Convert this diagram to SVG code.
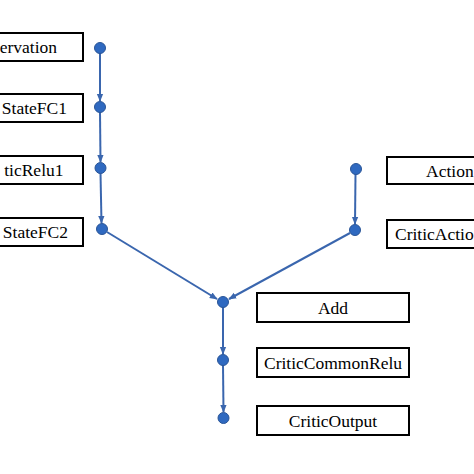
<svg xmlns="http://www.w3.org/2000/svg" width="474" height="474" viewBox="0 0 474 474">
<style>
.box{fill:#fff;stroke:#000;stroke-width:2}
.lbl{font-family:"Liberation Serif","Times New Roman",serif;font-size:17.5px;fill:#000}
.c{text-anchor:middle}
.e{text-anchor:end}
.node{fill:#2f69c0;stroke:#2a5597;stroke-width:1}
.edge{stroke:#3a66ae;stroke-width:2;fill:none;marker-end:url(#ah)}
</style>
<defs>
<marker id="ah" viewBox="0 0 10 10" refX="9" refY="5" markerWidth="4" markerHeight="4" orient="auto" markerUnits="strokeWidth">
<path d="M0,1 L10,5 L0,9 Z" fill="#3a66ae"/>
</marker>
</defs>
<rect width="474" height="474" fill="#fff"/>
<g id="connectors">
<line class="edge" x1="100" y1="53" x2="100" y2="101"/>
<line class="edge" x1="100" y1="112" x2="100.5" y2="162"/>
<line class="edge" x1="100.5" y1="173" x2="101.5" y2="223"/>
<line class="edge" x1="107" y1="232" x2="217" y2="299"/>
<line class="edge" x1="355.5" y1="174" x2="355" y2="224"/>
<line class="edge" x1="350" y1="233" x2="229" y2="299"/>
<line class="edge" x1="223" y1="307" x2="223" y2="354"/>
<line class="edge" x1="223" y1="365" x2="223.5" y2="412"/>
</g>
<g id="n-observation">
<rect class="box" x="-70" y="33" width="153" height="28"/>
<text class="lbl e" x="57" y="53">ervation</text>
<circle class="node" cx="100" cy="48" r="5.5"/>
</g>
<g id="n-statefc1">
<rect class="box" x="-70" y="94" width="153" height="28"/>
<text class="lbl e" x="67" y="114">StateFC1</text>
<circle class="node" cx="100" cy="107" r="5.5"/>
</g>
<g id="n-relu1">
<rect class="box" x="-70" y="156" width="153" height="28"/>
<text class="lbl e" x="63.5" y="176">ticRelu1</text>
<circle class="node" cx="100.5" cy="168" r="5.5"/>
</g>
<g id="n-statefc2">
<rect class="box" x="-70" y="218" width="153" height="28"/>
<text class="lbl e" x="68" y="238">StateFC2</text>
<circle class="node" cx="102" cy="229" r="5.5"/>
</g>
<g id="n-action">
<rect class="box" x="387" y="157" width="153" height="27"/>
<text class="lbl" x="426" y="177">Action</text>
<circle class="node" cx="356" cy="169" r="5.5"/>
</g>
<g id="n-actionfc">
<rect class="box" x="387" y="220" width="153" height="28"/>
<text class="lbl" x="395" y="240">CriticActio</text>
<circle class="node" cx="355" cy="230" r="5.5"/>
</g>
<g id="n-add">
<rect class="box" x="257" y="293" width="152" height="29"/>
<text class="lbl c" x="333" y="314">Add</text>
<circle class="node" cx="223" cy="302" r="5.5"/>
</g>
<g id="n-relu">
<rect class="box" x="257" y="348" width="152" height="29"/>
<text class="lbl c" x="333" y="369">CriticCommonRelu</text>
<circle class="node" cx="223" cy="360" r="5.5"/>
</g>
<g id="n-output">
<rect class="box" x="257" y="406" width="152" height="29"/>
<text class="lbl c" x="333" y="427">CriticOutput</text>
<circle class="node" cx="223.5" cy="418" r="5.5"/>
</g>
</svg>
